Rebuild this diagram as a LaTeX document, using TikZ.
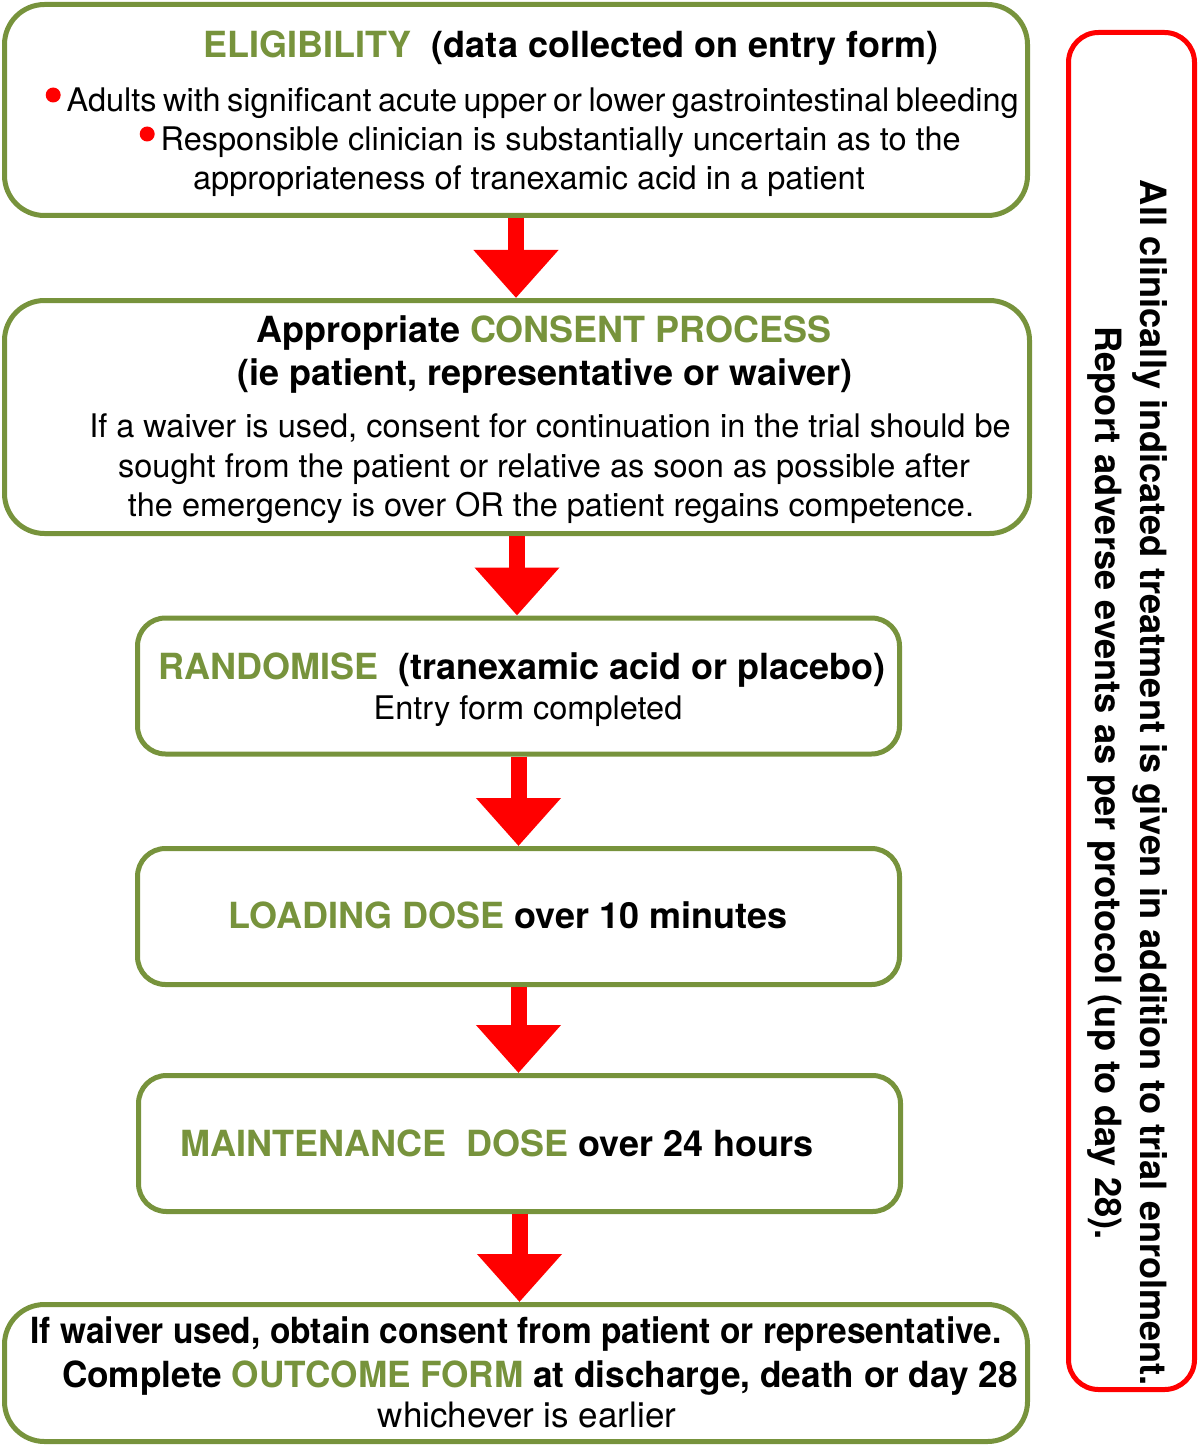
\documentclass[tikz,border=0pt]{standalone}
\usepackage{fontspec}
\usepackage{graphicx}
\setmainfont{TeX Gyre Heros}
\usetikzlibrary{arrows.meta}
\definecolor{trialgreen}{RGB}{119,147,60}
\tikzset{
  box/.style={draw=trialgreen, line width=5pt, rounded corners=40pt, inner sep=0pt},
  sbox/.style={box, rounded corners=28pt, minimum width=762pt, minimum height=136pt},
  body/.style={anchor=base, inner sep=0pt, font=\fontsize{32.5}{39}\selectfont},
  head/.style={anchor=base, inner sep=0pt, font=\fontsize{36}{45}\selectfont\bfseries},
  flow/.style={draw=red, line width=16pt, -{Triangle[width=82pt,length=48pt]}}
}
\newcommand{\grn}[1]{\textcolor{trialgreen}{#1}}
\newcommand{\reddot}{\raisebox{9.5pt}{\tikz\fill[red] (0,0) circle (7.5pt);}\hspace{6pt}}
\begin{document}
\begin{tikzpicture}[x=1pt,y=-1pt]
\useasboundingbox (0,0) rectangle (1200,1447);
% boxes
\node[box, minimum width=1023pt, minimum height=211pt] (elig) at (516,110) {};
\node[box, minimum width=1025pt, minimum height=233pt] (consent) at (517,417) {};
\node[sbox] (random) at (518.5,686) {};
\node[sbox] (loading) at (518.5,916.5) {};
\node[sbox] (maint) at (519.5,1143.5) {};
\node[box, minimum width=1023pt, minimum height=137pt] (outcome) at (516,1373) {};
\node[box, draw=red, rounded corners=30pt, minimum width=126pt, minimum height=1357pt] (note) at (1131.5,711) {};
% eligibility
\node[head] (eligT) at (571,58) {\grn{ELIGIBILITY}\ \ (data collected on entry form)};
\node[body, anchor=base west] (eligA) at (45.5,112) {\reddot\makebox[952pt][s]{Adults with significant acute upper or lower gastrointestinal bleeding}};
\node[body, anchor=base west] (eligB) at (139.5,151) {\reddot Responsible clinician is substantially uncertain as to the};
\node[body] (eligC) at (529,190) {appropriateness of tranexamic acid in a patient};
% consent
\node[head] (consT) at (544,342) {Appropriate \grn{CONSENT PROCESS}};
\node[head] (consS) at (545,385) {(ie patient, representative or waiver)};
\node[body] (consA) at (550,437) {If a waiver is used, consent for continuation in the trial should be};
\node[body] (consB) at (544,477) {sought from the patient or relative as soon as possible after};
\node[body] (consC) at (551,516) {the emergency is over OR the patient regains competence.};
% randomise, doses
\node[head] (randT) at (522,679) {\grn{RANDOMISE}\ \ (tranexamic acid or placebo)};
\node[body] (randA) at (528,719) {Entry form completed};
\node[head] (loadT) at (508,928) {\grn{LOADING DOSE} over 10 minutes};
\node[head] (maintT) at (497,1156) {\grn{MAINTENANCE\ \ DOSE} over 24 hours};
% outcome
\node[head] (outA) at (516,1343) {\scalebox{0.93}[1]{If waiver used, obtain consent from patient or representative.}};
\node[head] (outB) at (540,1387) {\scalebox{0.977}[1]{Complete \grn{OUTCOME FORM} at discharge, death or day 28}};
\node[body, font=\fontsize{35}{40}\selectfont] (outC) at (527,1427) {whichever is earlier};
% side note
\node[head, font=\fontsize{36.2}{45}\selectfont\bfseries, anchor=center, rotate=-90, align=center] (noteT) at (1128,783)
  {All clinically indicated treatment is given in addition to trial enrolment.\\
   Report adverse events as per protocol (up to day 28).};
% arrows
\draw[flow] (elig.south) -- (elig.south |- consent.north);
\draw[flow] (consent.south) -- (consent.south |- random.north);
\draw[flow] (random.south) -- (random.south |- loading.north);
\draw[flow] (loading.south) -- (loading.south |- maint.north);
\draw[flow] (maint.south) -- (maint.south |- outcome.north);
\end{tikzpicture}
\end{document}
